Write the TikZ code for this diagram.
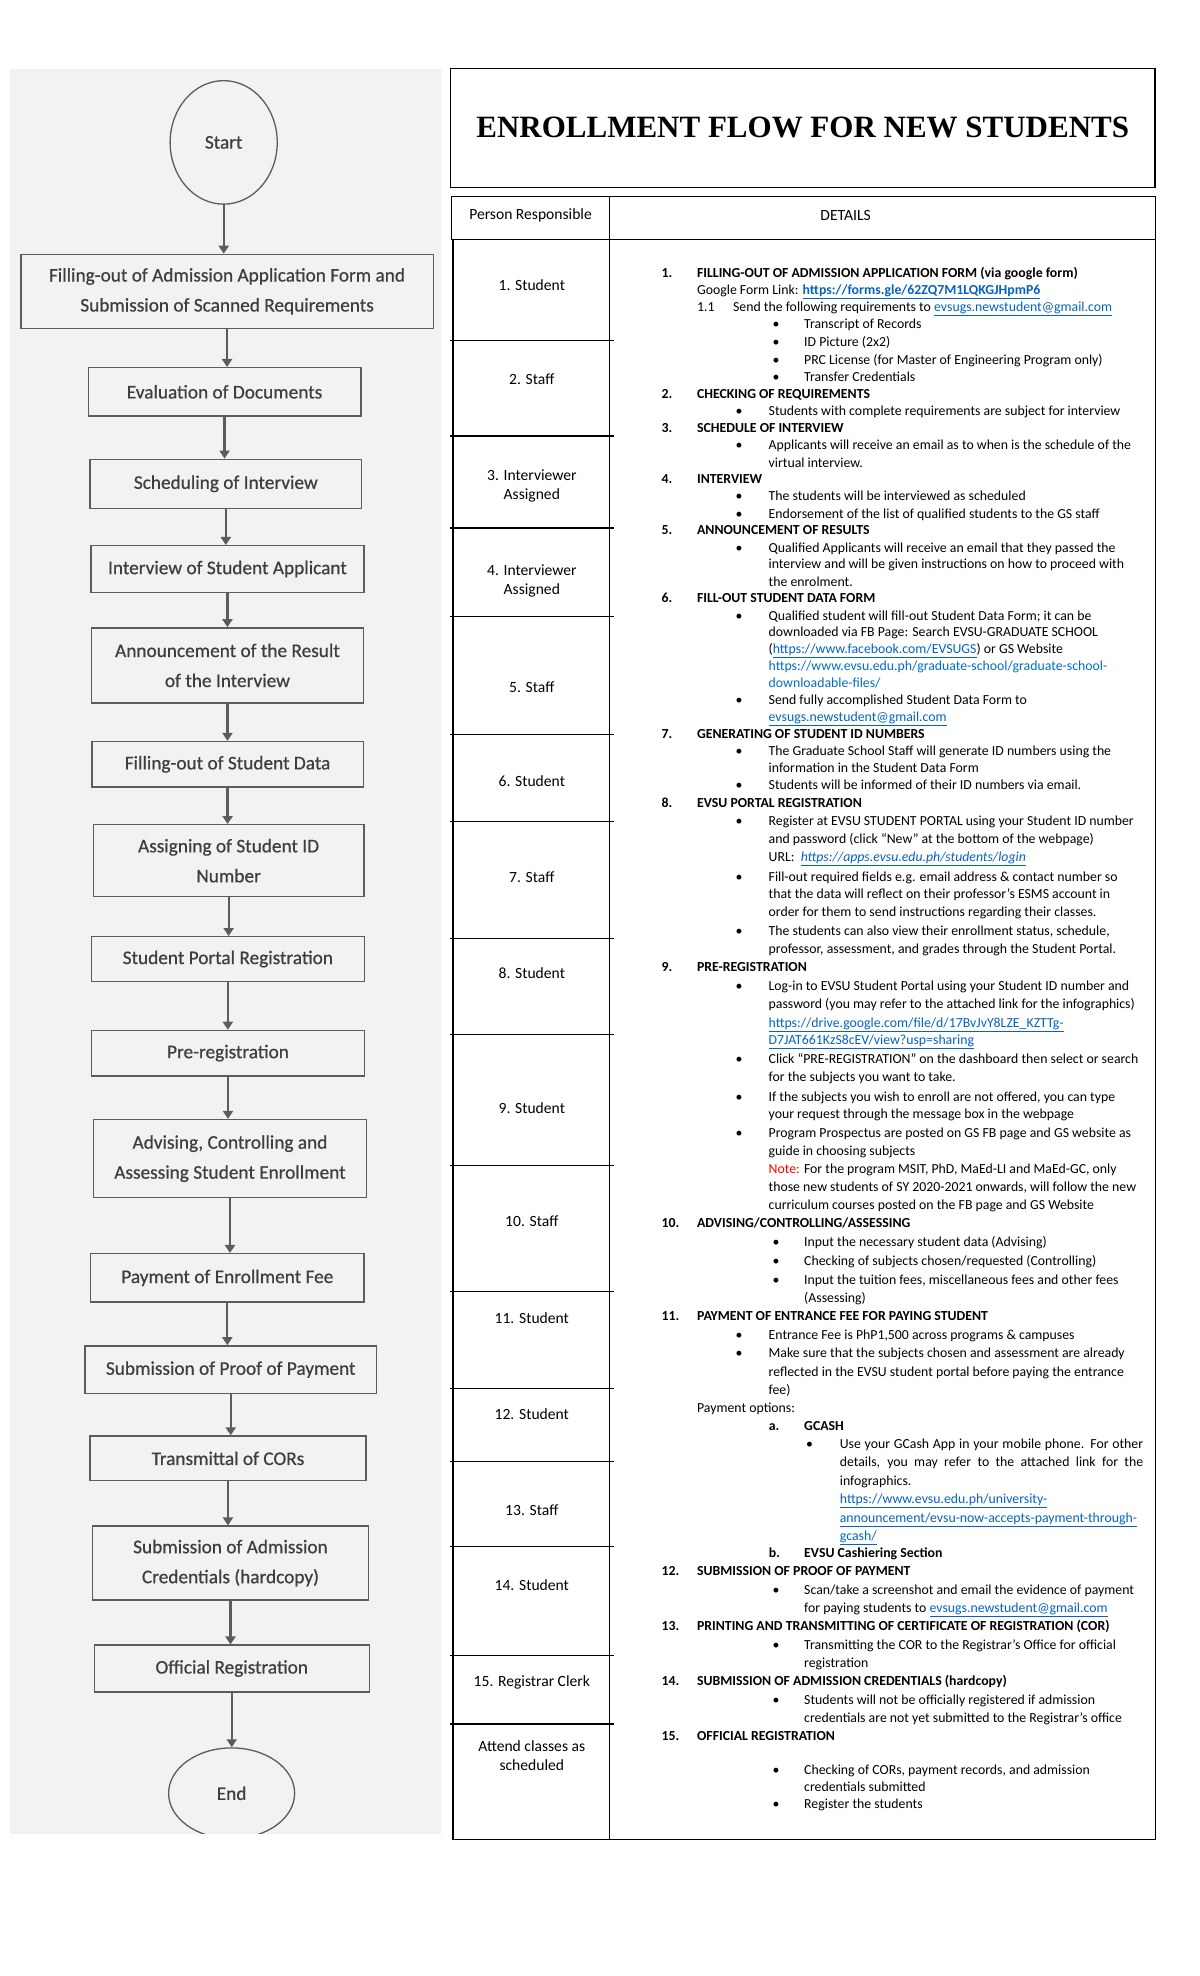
\documentclass[tikz,border=0pt]{standalone}
\usepackage{fontspec}
\setmainfont{Carlito}
\newfontfamily\titlefont{Liberation Serif}
\newfontfamily\scanfont[FakeBold=0.6]{Carlito}
\usetikzlibrary{arrows.meta,shapes.geometric}
\definecolor{fgray}{HTML}{5C5C5C}
\definecolor{ftxt}{HTML}{3E3E3E}
\definecolor{panel}{HTML}{F2F2F2}
\definecolor{linkblue}{HTML}{0563C1}
\definecolor{urlblue}{HTML}{0070C0}
\definecolor{notered}{HTML}{FF0000}
\newcommand\lnk[1]{\textcolor{linkblue}{\underline{#1}}}
\newcommand\FB[6]{\node[fbox, minimum width=#4*1.2605pt, minimum height=#5*1.2605pt] (#1) at (#2,#3) {#6};}
\newcommand\HD[4]{\node[dh] (#1n) at (524.8,#2) {#3}; \node[dh] (#1) at (553,#2) {#4};}
\newcommand\BA[3]{\node[dl] (#1b) at (613,#2) {•}; \node[dl] (#1) at (638,#2) {#3};}
\newcommand\BB[3]{\node[dl] (#1b) at (583.6,#2) {•}; \node[dl] (#1) at (609.8,#2) {#3};}
\newcommand\CA[3]{\node[dl] (#1) at (638,#2) {#3};}
\newcommand\CB[3]{\node[dl] (#1) at (609.8,#2) {#3};}
\begin{document}
\begin{tikzpicture}[x=1.2605pt,y=-1.2605pt,
  fbox/.style={draw=fgray, line width=1.4pt, inner sep=0pt, text=ftxt, align=center, font=\scanfont\fontsize{19.3}{30}\selectfont},
  dl/.style={anchor=base west, inner sep=0pt, yshift=-4pt, font=\fontsize{13.8}{17}\selectfont},
  dh/.style={dl, font=\fontsize{13.8}{17}\selectfont\bfseries},
  pr/.style={inner sep=0pt, align=center, font=\fontsize{15.6}{19}\selectfont},
  arr/.style={draw=fgray, line width=2.2pt, -{Triangle[width=10pt,length=8pt]}},
  tbl/.style={line width=1.1pt}]
\useasboundingbox (0,0) rectangle (952,1568);
\fill[white] (0,0) rectangle (952,1568);
% ---------- flowchart panel ----------
\fill[panel] (8,55) rectangle (350,1455);
\node[draw=fgray, line width=1.3pt, ellipse, inner sep=0pt, minimum width=85*1.2605pt, minimum height=98*1.2605pt, text=ftxt, font=\scanfont\fontsize{19.3}{24}\selectfont] (start) at (177.5,113) {Start};
\FB{b1}{180.2}{231.2}{327.3}{58.7}{Filling-out of Admission Application Form and\\Submission of Scanned Requirements}
\FB{b2}{178.2}{310.9}{216.4}{38.3}{Evaluation of Documents}
\FB{b3}{179.2}{383.9}{215.6}{38.9}{Scheduling of Interview}
\FB{b4}{180.5}{451.5}{216.6}{37}{Interview of Student Applicant}
\FB{b5}{180.5}{528}{215.6}{59.5}{Announcement of the Result\\of the Interview}
\FB{b6}{180.6}{606.5}{215.3}{36.1}{Filling-out of Student Data}
\FB{b7}{181.4}{683}{214.8}{57.1}{Assigning of Student ID\\Number}
\FB{b8}{180.8}{761}{216.5}{35.3}{Student Portal Registration}
\FB{b9}{180.9}{835.7}{216.3}{36.1}{Pre-registration}
\FB{b10}{182.5}{919.4}{217}{62}{Advising, Controlling and\\Assessing Student Enrollment}
\FB{b11}{180.4}{1014}{216.8}{38.4}{Payment of Enrollment Fee}
\FB{b12}{183.1}{1086.8}{231.4}{37.6}{Submission of Proof of Payment}
\FB{b13}{180.9}{1157.2}{219}{35.4}{Transmittal of CORs}
\FB{b14}{182.9}{1240.3}{218.7}{58.6}{Submission of Admission\\Credentials (hardcopy)}
\FB{b15}{183.9}{1324}{218.2}{37.1}{Official Registration}
\begin{scope}
\clip (8,55) rectangle (350,1455);
\node[draw=fgray, line width=1.3pt, ellipse, inner sep=0pt, minimum width=100*1.2605pt, minimum height=72*1.2605pt, text=ftxt, font=\scanfont\fontsize{19.3}{24}\selectfont] (stop) at (183.8,1423) {End};
\end{scope}
\draw[arr] (start.south) -- (start.south |- b1.north);
\foreach \a/\b in {b1/b2,b2/b3,b3/b4,b4/b5,b5/b6,b6/b7,b7/b8,b8/b9,b9/b10,b10/b11,b11/b12,b12/b13,b13/b14,b14/b15}
  {\draw[arr] (\a.south) -- (\a.south |- \b.north);}
\draw[arr] (b15.south) -- (b15.south |- stop.north);
% ---------- title ----------
\node[draw, line width=1.1pt, minimum width=559*1.2605pt, minimum height=95*1.2605pt, inner sep=0pt, font=\titlefont\bfseries\fontsize{31}{36}\selectfont] (title) at (637,101.5) {ENROLLMENT FLOW FOR NEW STUDENTS};
% ---------- table ----------
\draw[tbl] (358,156) rectangle (917,190);
\draw[tbl] (360,190) rectangle (917,1460);
\draw[line width=2.2pt] (359.5,190) -- (359.5,1460);
\draw[tbl] (484,156) -- (484,1460);
\foreach \yy in {270,346,419,489,583,652,745,821,925,1025,1102,1160,1227,1314,1368}
  {\draw[tbl] (357,\yy) -- (487,\yy);}
\node[pr] (hp) at (421,171) {Person Responsible};
\node[pr] (hd) at (671,171) {DETAILS};
\node[pr] (p1) at (422,226) {1. Student};
\node[pr] (p2) at (422,301) {2. Staff};
\node[pr] (p3) at (422,385.5) {3. Interviewer\\Assigned};
\node[pr] (p4) at (422,461) {4. Interviewer\\Assigned};
\node[pr] (p5) at (422,545) {5. Staff};
\node[pr] (p6) at (422,620) {6. Student};
\node[pr] (p7) at (422,696) {7. Staff};
\node[pr] (p8) at (422,772) {8. Student};
\node[pr] (p9) at (422,879) {9. Student};
\node[pr] (p10) at (422,969) {10. Staff};
\node[pr] (p11) at (422,1046) {11. Student};
\node[pr] (p12) at (422,1122) {12. Student};
\node[pr] (p13) at (422,1198) {13. Staff};
\node[pr] (p14) at (422,1258) {14. Student};
\node[pr] (p15) at (422,1335) {15. Registrar Clerk};
\node[pr] (p16) at (422,1393.5) {Attend classes as\\scheduled};
% ---------- details ----------
\HD{i1}{217.4}{1.}{FILLING-OUT OF ADMISSION APPLICATION FORM (via google form)}
\node[dl] (i1a) at (553,230.6) {Google Form Link: \lnk{\textbf{https://forms.gle/62ZQ7M1LQKGJHpmP6}}};
\node[dl] (i1b) at (553,244.1) {1.1};
\node[dl] (i1c) at (581.6,244.1) {Send the following requirements to \lnk{evsugs.newstudent@gmail.com}};
\BA{i1d}{257.8}{Transcript of Records}
\BA{i1e}{271.9}{ID Picture (2x2)}
\BA{i1f}{285.9}{PRC License (for Master of Engineering Program only)}
\BA{i1g}{299.3}{Transfer Credentials}
\HD{i2}{313.1}{2.}{CHECKING OF REQUIREMENTS}
\BB{i2a}{326.9}{Students with complete requirements are subject for interview}
\HD{i3}{339.8}{3.}{SCHEDULE OF INTERVIEW}
\BB{i3a}{353.8}{Applicants will receive an email as to when is the schedule of the}
\CB{i3b}{367.6}{virtual interview.}
\HD{i4}{380.3}{4.}{INTERVIEW}
\BB{i4a}{394}{The students will be interviewed as scheduled}
\BB{i4b}{408}{Endorsement of the list of qualified students to the GS staff}
\HD{i5}{421.3}{5.}{ANNOUNCEMENT OF RESULTS}
\BB{i5a}{435}{Qualified Applicants will receive an email that they passed the}
\CB{i5b}{448.2}{interview and will be given instructions on how to proceed with}
\CB{i5c}{462}{the enrolment.}
\HD{i6}{475.2}{6.}{FILL-OUT STUDENT DATA FORM}
\BB{i6a}{489}{Qualified student will fill-out Student Data Form; it can be}
\CB{i6b}{502.2}{downloaded via FB Page: Search EVSU-GRADUATE SCHOOL}
\CB{i6c}{515.4}{(\lnk{https://www.facebook.com/EVSUGS}) or GS Website}
\CB{i6d}{528.6}{\textcolor{urlblue}{https://www.evsu.edu.ph/graduate-school/graduate-school-}}
\CB{i6e}{542.1}{\textcolor{urlblue}{downloadable-files/}}
\BB{i6f}{555.9}{Send fully accomplished Student Data Form to}
\CB{i6g}{569.1}{\lnk{evsugs.newstudent@gmail.com}}
\HD{i7}{583.1}{7.}{GENERATING OF STUDENT ID NUMBERS}
\BB{i7a}{596.3}{The Graduate School Staff will generate ID numbers using the}
\CB{i7b}{609.5}{information in the Student Data Form}
\BB{i7c}{623.3}{Students will be informed of their ID numbers via email.}
\HD{i8}{637.3}{8.}{EVSU PORTAL REGISTRATION}
\BB{i8a}{651.9}{Register at EVSU STUDENT PORTAL using your Student ID number}
\CB{i8b}{666.4}{and password (click “New” at the bottom of the webpage)}
\CB{i8c}{680.4}{URL:\ \ \lnk{\textit{https://apps.evsu.edu.ph/students/login}}}
\BB{i8d}{696}{Fill-out required fields e.g. email address \& contact number so}
\CB{i8e}{710}{that the data will reflect on their professor’s ESMS account in}
\CB{i8f}{724.4}{order for them to send instructions regarding their classes.}
\BB{i8g}{739.1}{The students can also view their enrollment status, schedule,}
\CB{i8h}{753.1}{professor, assessment, and grades through the Student Portal.}
\HD{i9}{767.4}{9.}{PRE-REGISTRATION}
\BB{i9a}{782.8}{Log-in to EVSU Student Portal using your Student ID number and}
\CB{i9b}{796.8}{password (you may refer to the attached link for the infographics)}
\CB{i9c}{811.8}{\lnk{https://drive.google.com/file/d/17BvJvY8LZE\_KZTTg-}}
\CB{i9d}{825.9}{\lnk{D7JAT661KzS8cEV/view?usp=sharing}}
\BB{i9e}{841}{Click “PRE-REGISTRATION” on the dashboard then select or search}
\CB{i9f}{855}{for the subjects you want to take.}
\BB{i9g}{870.5}{If the subjects you wish to enroll are not offered, you can type}
\CB{i9h}{884.6}{your request through the message box in the webpage}
\BB{i9i}{899.5}{Program Prospectus are posted on GS FB page and GS website as}
\CB{i9j}{913.7}{guide in choosing subjects}
\CB{i9k}{928.2}{\textcolor{notered}{Note:} For the program MSIT, PhD, MaEd-LI and MaEd-GC, only}
\CB{i9l}{942.2}{those new students of SY 2020-2021 onwards, will follow the new}
\CB{i9m}{956.5}{curriculum courses posted on the FB page and GS Website}
\HD{i10}{971.1}{10.}{ADVISING/CONTROLLING/ASSESSING}
\BA{i10a}{985.9}{Input the necessary student data (Advising)}
\BA{i10b}{1001}{Checking of subjects chosen/requested (Controlling)}
\BA{i10c}{1016}{Input the tuition fees, miscellaneous fees and other fees}
\CA{i10d}{1030}{(Assessing)}
\HD{i11}{1044.6}{11.}{PAYMENT OF ENTRANCE FEE FOR PAYING STUDENT}
\BB{i11a}{1059.6}{Entrance Fee is PhP1,500 across programs \& campuses}
\BB{i11b}{1074.3}{Make sure that the subjects chosen and assessment are already}
\CB{i11c}{1089}{reflected in the EVSU student portal before paying the entrance}
\CB{i11d}{1103.5}{fee)}
\node[dl] (i11e) at (553,1117.8) {Payment options:};
\node[dh] (i11f) at (610,1132.1) {a.};
\node[dh] (i11g) at (638,1132.1) {GCASH};
\node[dl] (i11h) at (639.5,1146.4) {•};
\node[dl] (i11i) at (666.3,1146.4) {\makebox[303.4pt][s]{Use your GCash App in your mobile phone. For other}};
\node[dl] (i11j) at (666.3,1160.6) {\makebox[303.4pt][s]{details, you may refer to the attached link for the}};
\node[dl] (i11k) at (666.3,1175.5) {infographics.};
\node[dl] (i11l) at (666.3,1190) {\lnk{https://www.evsu.edu.ph/university-}};
\node[dl] (i11m) at (666.3,1204.6) {\lnk{announcement/evsu-now-accepts-payment-through-}};
\node[dl] (i11n) at (666.3,1219.1) {\lnk{gcash/}};
\node[dh] (i11o) at (610,1232.8) {b.};
\node[dh] (i11p) at (638,1232.8) {EVSU Cashiering Section};
\HD{i12}{1246.9}{12.}{SUBMISSION OF PROOF OF PAYMENT}
\BA{i12a}{1261.9}{Scan/take a screenshot and email the evidence of payment}
\CA{i12b}{1276.5}{for paying students to \lnk{evsugs.newstudent@gmail.com}}
\HD{i13}{1290.8}{13.}{PRINTING AND TRANSMITTING OF CERTIFICATE OF REGISTRATION (COR)}
\BA{i13a}{1305.6}{Transmitting the COR to the Registrar’s Office for official}
\CA{i13b}{1320.1}{registration}
\HD{i14}{1334.6}{14.}{SUBMISSION OF ADMISSION CREDENTIALS (hardcopy)}
\BA{i14a}{1349.5}{Students will not be officially registered if admission}
\CA{i14b}{1363.8}{credentials are not yet submitted to the Registrar’s office}
\HD{i15}{1377.8}{15.}{OFFICIAL REGISTRATION}
\BA{i15a}{1405}{Checking of CORs, payment records, and admission}
\CA{i15b}{1418.2}{credentials submitted}
\BA{i15c}{1432}{Register the students}
\end{tikzpicture}
\end{document}
